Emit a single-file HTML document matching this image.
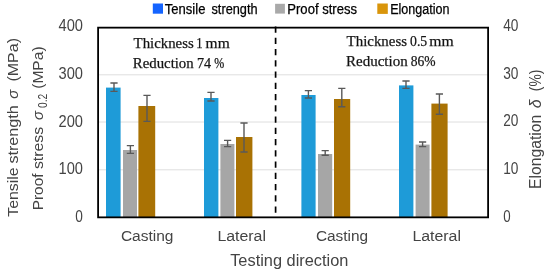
<!DOCTYPE html>
<html lang="en"><head><meta charset="utf-8"><title>Chart</title>
<style>html,body{margin:0;padding:0;background:#fff}svg{display:block}text{font-family:"Liberation Sans",sans-serif}.s{font-family:"Liberation Serif",serif}</style>
</head><body>
<svg width="550" height="271" viewBox="0 0 550 271">
<rect width="550" height="271" fill="#fff"/>
<line x1="98.1" x2="488.1" y1="74.8" y2="74.8" stroke="#dedede" stroke-width="1"/>
<line x1="98.1" x2="488.1" y1="122.0" y2="122.0" stroke="#dedede" stroke-width="1"/>
<line x1="98.1" x2="488.1" y1="169.8" y2="169.8" stroke="#dedede" stroke-width="1"/>
<rect x="106" y="87.6" width="14.6" height="129.75" fill="#1e9bd8"/>
<rect x="123" y="150" width="14.0" height="67.35" fill="#a6a6a6"/>
<rect x="138.4" y="106" width="16.8" height="111.35" fill="#a97204"/>
<rect x="204" y="98" width="14.4" height="119.35" fill="#1e9bd8"/>
<rect x="220.4" y="144" width="14.0" height="73.35" fill="#a6a6a6"/>
<rect x="236" y="137" width="16.4" height="80.35" fill="#a97204"/>
<rect x="301.4" y="95" width="14.2" height="122.35" fill="#1e9bd8"/>
<rect x="318" y="154" width="14.2" height="63.35" fill="#a6a6a6"/>
<rect x="334" y="99" width="16.2" height="118.35" fill="#a97204"/>
<rect x="399" y="85.4" width="14.4" height="131.95" fill="#1e9bd8"/>
<rect x="415.6" y="144.6" width="14.0" height="72.75" fill="#a6a6a6"/>
<rect x="431.4" y="103.6" width="16.2" height="113.75" fill="#a97204"/>
<path d="M110.4 83H117.6M110.4 91.4H117.6M114 83V91.4" stroke="#595959" stroke-width="1.4" fill="none"/>
<path d="M126.8 145.6H134.0M126.8 153.4H134.0M130.4 145.6V153.4" stroke="#595959" stroke-width="1.4" fill="none"/>
<path d="M143.4 95.4H150.6M143.4 121.4H150.6M147 95.4V121.4" stroke="#595959" stroke-width="1.4" fill="none"/>
<path d="M207.4 92.4H214.6M207.4 101H214.6M211 92.4V101" stroke="#595959" stroke-width="1.4" fill="none"/>
<path d="M224.0 140.4H231.2M224.0 146.6H231.2M227.6 140.4V146.6" stroke="#595959" stroke-width="1.4" fill="none"/>
<path d="M240.4 123H247.6M240.4 152H247.6M244 123V152" stroke="#595959" stroke-width="1.4" fill="none"/>
<path d="M304.8 90.6H312.0M304.8 98H312.0M308.4 90.6V98" stroke="#595959" stroke-width="1.4" fill="none"/>
<path d="M321.6 150.6H328.8M321.6 155.2H328.8M325.2 150.6V155.2" stroke="#595959" stroke-width="1.4" fill="none"/>
<path d="M338.2 88.4H345.4M338.2 106.8H345.4M341.8 88.4V106.8" stroke="#595959" stroke-width="1.4" fill="none"/>
<path d="M402.4 81H409.6M402.4 88.4H409.6M406 81V88.4" stroke="#595959" stroke-width="1.4" fill="none"/>
<path d="M419.0 142H426.2M419.0 146.6H426.2M422.6 142V146.6" stroke="#595959" stroke-width="1.4" fill="none"/>
<path d="M435.8 94H443.0M435.8 114.2H443.0M439.4 94V114.2" stroke="#595959" stroke-width="1.4" fill="none"/>
<line x1="275.6" x2="275.6" y1="26.55" y2="216.5" stroke="#000" stroke-width="1.7" stroke-dasharray="6.3 4.95"/>
<rect x="98.1" y="27.65" width="390.0" height="189.70" fill="none" stroke="#000" stroke-width="1.8"/>
<rect x="152.8" y="3.5" width="10.2" height="10.2" fill="#1464ff"/>
<rect x="275.1" y="3.8" width="9.8" height="9.8" fill="#a9a9a9"/>
<rect x="377.3" y="3.5" width="10.5" height="10.4" fill="#d9950b"/>
<text y="13.8" font-size="13.8" fill="#000" stroke="#000" stroke-width="0.25"><tspan x="164.8" textLength="40.6" lengthAdjust="spacingAndGlyphs">Tensile</tspan> <tspan x="211.5" textLength="46" lengthAdjust="spacingAndGlyphs">strength</tspan></text>
<text y="13.8" font-size="13.8" fill="#000" stroke="#000" stroke-width="0.25"><tspan x="287.3" textLength="69.7" lengthAdjust="spacingAndGlyphs">Proof stress</tspan></text>
<text y="13.8" font-size="13.8" fill="#000" stroke="#000" stroke-width="0.25"><tspan x="390.2" textLength="59.3" lengthAdjust="spacingAndGlyphs">Elongation</tspan></text>
<text y="31" font-size="16" fill="#444444"><tspan x="58.5" textLength="24.4" lengthAdjust="spacingAndGlyphs">400</tspan></text>
<text y="79.3" font-size="16" fill="#444444"><tspan x="58.5" textLength="24.4" lengthAdjust="spacingAndGlyphs">300</tspan></text>
<text y="127.2" font-size="16" fill="#444444"><tspan x="58.5" textLength="24.4" lengthAdjust="spacingAndGlyphs">200</tspan></text>
<text y="174" font-size="16" fill="#444444"><tspan x="58.5" textLength="24.4" lengthAdjust="spacingAndGlyphs">100</tspan></text>
<text y="221.7" font-size="16" fill="#444444"><tspan x="75.3" textLength="7.6" lengthAdjust="spacingAndGlyphs">0</tspan></text>
<text y="31" font-size="16" fill="#444444"><tspan x="503.2" textLength="15.2" lengthAdjust="spacingAndGlyphs">40</tspan></text>
<text y="78.7" font-size="16" fill="#444444"><tspan x="503.2" textLength="15.2" lengthAdjust="spacingAndGlyphs">30</tspan></text>
<text y="126" font-size="16" fill="#444444"><tspan x="503.2" textLength="15.2" lengthAdjust="spacingAndGlyphs">20</tspan></text>
<text y="173.8" font-size="16" fill="#444444"><tspan x="503.2" textLength="15.2" lengthAdjust="spacingAndGlyphs">10</tspan></text>
<text y="221.7" font-size="16" fill="#444444"><tspan x="503.2" textLength="7.4" lengthAdjust="spacingAndGlyphs">0</tspan></text>
<text y="241.4" font-size="15.4" fill="#444444"><tspan x="120.9" textLength="52.6" lengthAdjust="spacingAndGlyphs">Casting</tspan></text>
<text y="241.4" font-size="15.4" fill="#444444"><tspan x="217.4" textLength="48.6" lengthAdjust="spacingAndGlyphs">Lateral</tspan></text>
<text y="241.4" font-size="15.4" fill="#444444"><tspan x="315.9" textLength="52.2" lengthAdjust="spacingAndGlyphs">Casting</tspan></text>
<text y="241.4" font-size="15.4" fill="#444444"><tspan x="412.4" textLength="48.6" lengthAdjust="spacingAndGlyphs">Lateral</tspan></text>
<text y="265.7" font-size="15.6" fill="#444444"><tspan x="230.2" textLength="118.2" lengthAdjust="spacingAndGlyphs">Testing direction</tspan></text>
<text y="47.8" font-size="14.5" fill="#111" class="s" stroke="#222" stroke-width="0.25"><tspan x="133.6" textLength="60.1" lengthAdjust="spacingAndGlyphs">Thickness</tspan> <tspan x="196.3" textLength="6.3" lengthAdjust="spacingAndGlyphs">1</tspan> <tspan x="205.6" textLength="24.1" lengthAdjust="spacingAndGlyphs">mm</tspan></text>
<text y="67.6" font-size="14.5" fill="#111" class="s" stroke="#222" stroke-width="0.25"><tspan x="132.8" textLength="60.9" lengthAdjust="spacingAndGlyphs">Reduction</tspan> <tspan x="197" textLength="14.2" lengthAdjust="spacingAndGlyphs">74</tspan> <tspan x="214.3" textLength="10" lengthAdjust="spacingAndGlyphs">%</tspan></text>
<text y="46.1" font-size="14.5" fill="#111" class="s" stroke="#222" stroke-width="0.25"><tspan x="346.6" textLength="60.4" lengthAdjust="spacingAndGlyphs">Thickness</tspan> <tspan x="410" textLength="17.2" lengthAdjust="spacingAndGlyphs">0.5</tspan> <tspan x="429.3" textLength="24.4" lengthAdjust="spacingAndGlyphs">mm</tspan></text>
<text y="66.2" font-size="14.5" fill="#111" class="s" stroke="#222" stroke-width="0.25"><tspan x="346" textLength="61.7" lengthAdjust="spacingAndGlyphs">Reduction</tspan> <tspan x="410.8" textLength="24.9" lengthAdjust="spacingAndGlyphs">86%</tspan></text>
<text transform="translate(18.3 216.8) rotate(-90)" font-size="15" fill="#444444"><tspan x="0" textLength="49.4" lengthAdjust="spacingAndGlyphs">Tensile</tspan> <tspan x="53.2" textLength="58.4" lengthAdjust="spacingAndGlyphs">strength</tspan> <tspan x="118" font-style="italic">σ</tspan> <tspan x="135.2" textLength="43.6" lengthAdjust="spacingAndGlyphs">(MPa)</tspan></text>
<text transform="translate(43 210.3) rotate(-90)" font-size="15" fill="#444444"><tspan x="0" textLength="36.8" lengthAdjust="spacingAndGlyphs">Proof</tspan> <tspan x="41.2" textLength="42.3" lengthAdjust="spacingAndGlyphs">stress</tspan> <tspan x="90.4" font-style="italic">σ</tspan> <tspan x="102.4" textLength="14.2" lengthAdjust="spacingAndGlyphs" dy="4.1" font-size="12">0.2</tspan> <tspan x="121.5" textLength="42.4" lengthAdjust="spacingAndGlyphs" dy="-4.1">(MPa)</tspan></text>
<text transform="translate(541.3 188.9) rotate(-90)" font-size="16" fill="#444444"><tspan x="0" textLength="74.2" lengthAdjust="spacingAndGlyphs">Elongation</tspan> <tspan x="80.7" font-style="italic">δ</tspan> <tspan x="97.7" textLength="21.6" lengthAdjust="spacingAndGlyphs">(%)</tspan></text>
</svg></body></html>
